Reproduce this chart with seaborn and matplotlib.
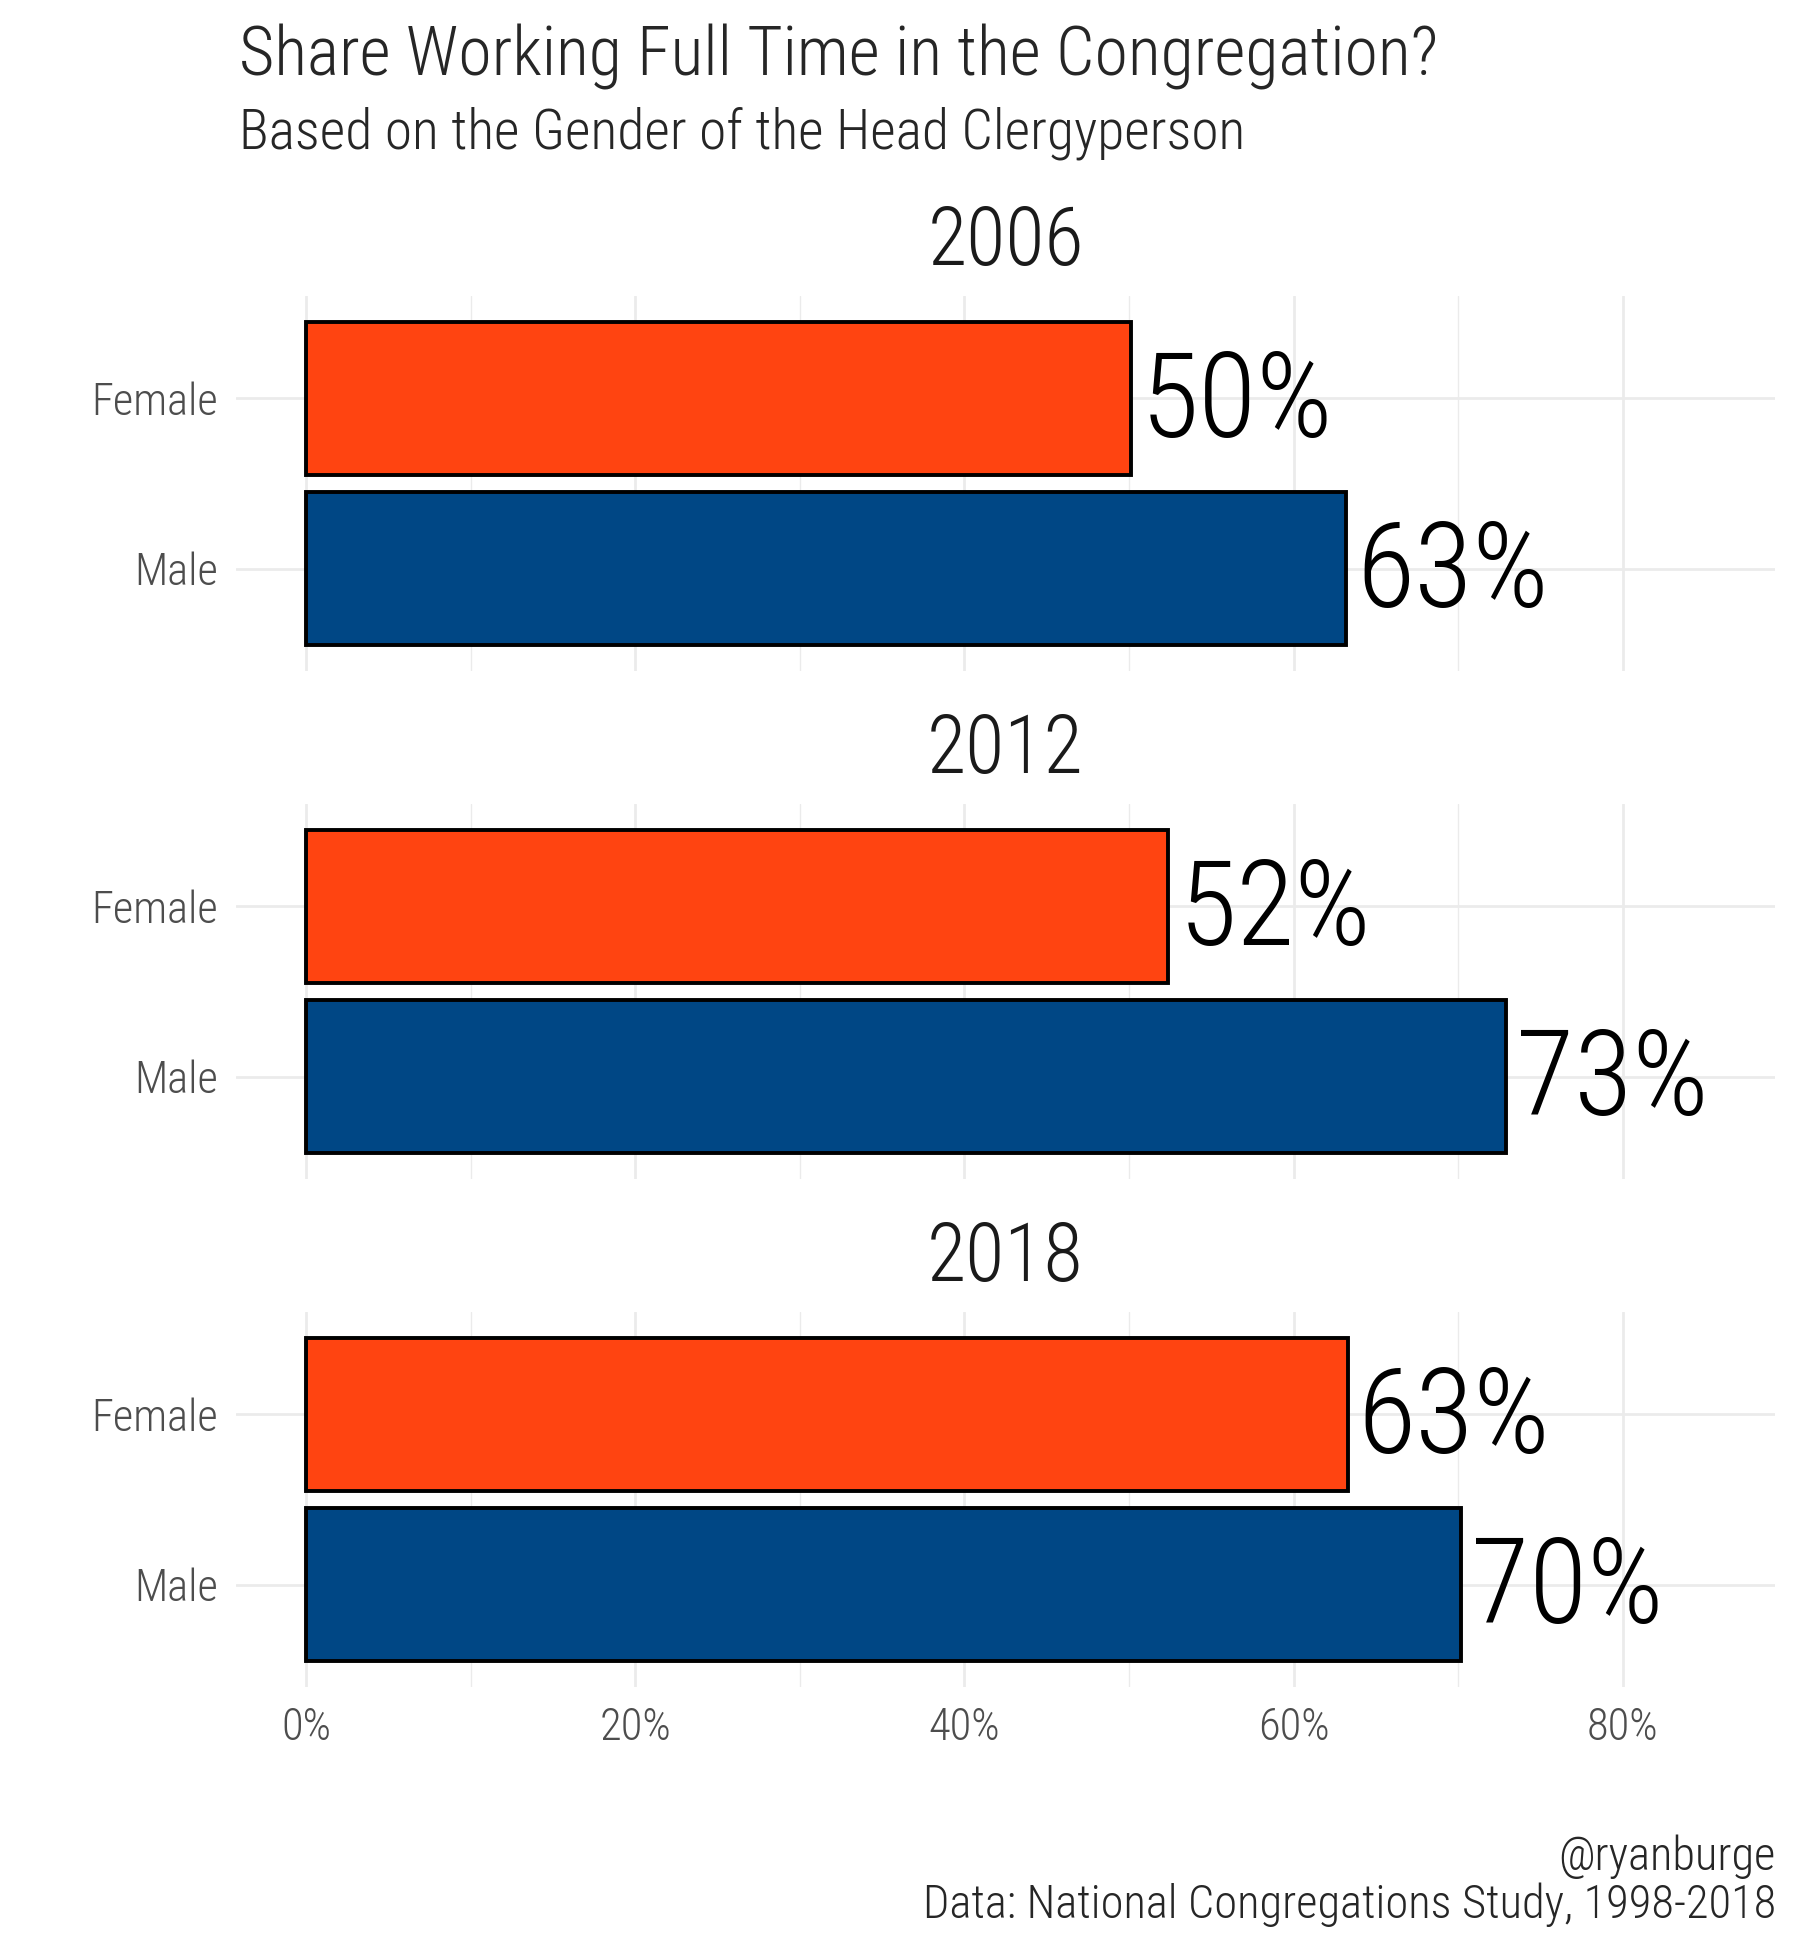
import matplotlib
matplotlib.use("Agg")
import matplotlib.pyplot as plt
from matplotlib import font_manager
import seaborn as sns
import pandas as pd
import numpy as np

years = ["2006", "2012", "2018"]
genders = ["Female", "Male"]
female_vals = [0.501, 0.524, 0.633]
male_vals = [0.632, 0.729, 0.702]
x_ticks = [0, 0.2, 0.4, 0.6, 0.8]
x_tick_labels = ["0%", "20%", "40%", "60%", "80%"]
colors = {"Female": "#FF4411", "Male": "#004785"}

title = "Share Working Full Time in the Congregation?"
subtitle = "Based on the Gender of the Head Clergyperson"
caption1 = "@ryanburge"
caption2 = "Data: National Congregations Study, 1998-2018"

sns.set_theme(style="white")
ttf = font_manager.fontManager.ttflist
names = {f.name for f in ttf}
stretch = "normal"
fam = "Roboto"
if "Roboto Condensed" in names:
    fam = "Roboto Condensed"
elif "Liberation Sans Narrow" in names:
    fam = "Liberation Sans Narrow"
elif any(f.name == "DejaVu Sans" and str(f.stretch) in ("condensed", "semi-condensed") for f in ttf):
    fam = "DejaVu Sans"
    stretch = "condensed"
plt.rcParams["font.family"] = [fam, "DejaVu Sans"]
plt.rcParams["font.stretch"] = stretch
label_weight = "light"

df = pd.DataFrame({
    "year": np.repeat(years, 2),
    "gender": genders * 3,
    "value": [v for pair in zip(female_vals, male_vals) for v in pair],
})

fig = plt.figure(figsize=(18, 19.5), dpi=100)
left, right = 236 / 1800, 1775 / 1800
panel_tops = [296, 804, 1312]
panel_h = 375
grid_col = "#EBEBEB"

for i, yr in enumerate(years):
    top = panel_tops[i]
    ax = fig.add_axes([left, 1 - (top + panel_h) / 1950, right - left, panel_h / 1950])
    sub = df[df["year"] == yr]
    sns.barplot(data=sub, y="gender", x="value", hue="gender", order=genders,
                hue_order=genders, palette=colors, orient="h", width=0.9,
                saturation=1, edgecolor="black", linewidth=2.8, legend=False,
                ax=ax, zorder=3)
    ax.set_xlim(-0.0425, 0.8925)
    ax.set_ylim(1.6, -0.6)
    ax.set_xticks(x_ticks)
    ax.set_xticks([0.1, 0.3, 0.5, 0.7], minor=True)
    ax.grid(True, axis="x", which="major", color=grid_col, lw=2.0, zorder=0)
    ax.grid(True, axis="x", which="minor", color=grid_col, lw=1.0, zorder=0)
    ax.grid(True, axis="y", which="major", color=grid_col, lw=2.0, zorder=0)
    ax.set_axisbelow(True)
    for s in ax.spines.values():
        s.set_visible(False)
    ax.set_xlabel("")
    ax.set_ylabel("")
    ax.tick_params(axis="both", which="both", length=0)
    ax.tick_params(axis="y", pad=13, labelsize=32, labelcolor="#4D4D4D")
    for t in ax.get_yticklabels():
        t.set_fontweight(label_weight)
    if i == 2:
        ax.set_xticklabels(x_tick_labels, fontweight=label_weight)
        ax.tick_params(axis="x", pad=14, labelsize=32, labelcolor="#4D4D4D")
    else:
        ax.set_xticklabels([])
    for j, g in enumerate(genders):
        v = sub.loc[sub["gender"] == g, "value"].iloc[0]
        ax.text(v + 0.006, j + 0.035, f"{round(v * 100):.0f}%", fontsize=86,
                va="center", ha="left", color="black", zorder=4,
                fontweight=label_weight)
    ax.text(0.5, 1 + 53 / panel_h, yr, transform=ax.transAxes, ha="center",
            va="center", fontsize=58, color="#1A1A1A", fontweight=label_weight)

fig.text(239 / 1800, 1 - 75 / 1950, title, fontsize=49, ha="left", va="baseline",
         fontweight=label_weight)
fig.text(239 / 1800, 1 - 149 / 1950, subtitle, fontsize=40, ha="left", va="baseline",
         fontweight=label_weight)
fig.text(1776 / 1800, 1 - 1870 / 1950, caption1, fontsize=33.5, ha="right", va="baseline",
         fontweight=label_weight)
fig.text(1776 / 1800, 1 - 1918 / 1950, caption2, fontsize=33.5, ha="right", va="baseline",
         fontweight=label_weight)

fig.savefig("out.png", dpi=100, facecolor="white")
